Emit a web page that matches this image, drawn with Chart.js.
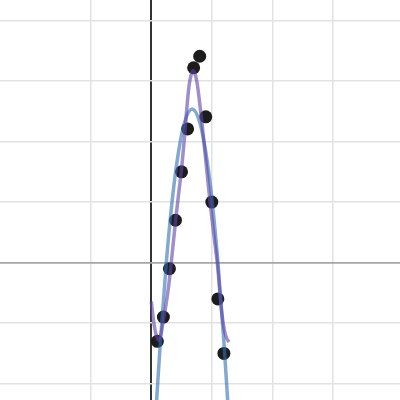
<!DOCTYPE html>
<html lang="en">
<head>
  <meta charset="UTF-8" />
  <title>Regression fits</title>
  <script src="https://cdn.jsdelivr.net/npm/chart.js"></script>
  <style>
    html, body { margin: 0; padding: 0; background: #fff; }
    #plot { display: block; }
  </style>
</head>
<body>
  <canvas id="plot" width="400" height="400"></canvas>

  <script>
    // measured data
    const dataX = [0.1, 0.2, 0.3, 0.4, 0.5, 0.6, 0.7, 0.8, 0.9, 1.0, 1.1, 1.2];
    const dataY = [-1.3, -0.9, -0.1, 0.7, 1.5, 2.21, 3.22, 3.41, 2.41, 1.0, -0.6, -1.5];

    // quadratic fit (blue)
    const quadX = [0.08, 0.15, 0.25, 0.35, 0.45, 0.55, 0.675, 0.8, 0.9, 1.0, 1.1, 1.2, 1.27];
    const quadY = [-2.40, -1.31, 0.02, 1.07, 1.83, 2.32, 2.54, 2.32, 1.83, 1.07, 0.02, -1.31, -2.40];

    // higher order fit (purple)
    const polyX = [0.0, 0.04, 0.085, 0.12, 0.16, 0.2, 0.25, 0.29, 0.33, 0.4, 0.45, 0.5, 0.555, 0.59,
                   0.625, 0.66, 0.69, 0.72, 0.755, 0.79, 0.835, 0.9, 0.97, 1.035, 1.095, 1.13, 1.165,
                   1.21, 1.25, 1.285];
    const polyY = [-0.64, -0.98, -1.21, -1.28, -1.18, -0.95, -0.65, -0.36, 0.0, 0.68, 1.12, 1.55, 2.15, 2.58,
                   2.93, 3.11, 3.17, 3.13, 2.98, 2.72, 2.33, 1.70, 1.01, 0.45, -0.05, -0.45, -0.83,
                   -1.13, -1.26, -1.31];

    const toPts = (xs, ys) => xs.map((x, i) => ({ x: x, y: ys[i] }));

    const onlyWhole = scale => {
      scale.ticks = scale.ticks.filter(t => Math.abs(t.value - Math.round(t.value)) < 1e-6);
    };

    new Chart(document.getElementById('plot'), {
      type: 'scatter',
      data: {
        datasets: [
          {
            label: 'fit 2',
            data: toPts(polyX, polyY),
            showLine: true,
            borderColor: 'rgba(96, 66, 166, 0.6)',
            borderWidth: 3.5,
            pointRadius: 0,
            cubicInterpolationMode: 'monotone',
            order: 0
          },
          {
            label: 'fit 1',
            data: toPts(quadX, quadY),
            showLine: true,
            borderColor: 'rgba(45, 112, 179, 0.6)',
            borderWidth: 3.5,
            pointRadius: 0,
            cubicInterpolationMode: 'monotone',
            order: 1
          },
          {
            label: 'data',
            data: toPts(dataX, dataY),
            showLine: false,
            pointRadius: 6.5,
            pointBorderWidth: 0,
            backgroundColor: '#1c1c1c',
            order: 2
          }
        ]
      },
      options: {
        responsive: false,
        animation: false,
        layout: { padding: 0, autoPadding: false },
        plugins: {
          legend: { display: false },
          tooltip: { enabled: false }
        },
        scales: {
          x: {
            type: 'linear',
            min: -2.5,
            max: 4.11,
            ticks: { display: false, stepSize: 1 },
            afterBuildTicks: onlyWhole,
            afterFit: s => { s.height = 0; },
            border: { display: false },
            grid: {
              drawTicks: false,
              color: c => c.tick && c.tick.value === 0 ? '#333333' : '#e2e2e2',
              lineWidth: c => c.tick && c.tick.value === 0 ? 2 : 1.5
            }
          },
          y: {
            type: 'linear',
            min: -2.27,
            max: 4.34,
            ticks: { display: false, stepSize: 1 },
            afterBuildTicks: onlyWhole,
            afterFit: s => { s.width = 0; },
            border: { display: false },
            grid: {
              drawTicks: false,
              color: c => c.tick && c.tick.value === 0 ? '#a6a6a6' : '#e2e2e2',
              lineWidth: c => c.tick && c.tick.value === 0 ? 1.8 : 1.5
            }
          }
        }
      }
    });
  </script>
</body>
</html>
